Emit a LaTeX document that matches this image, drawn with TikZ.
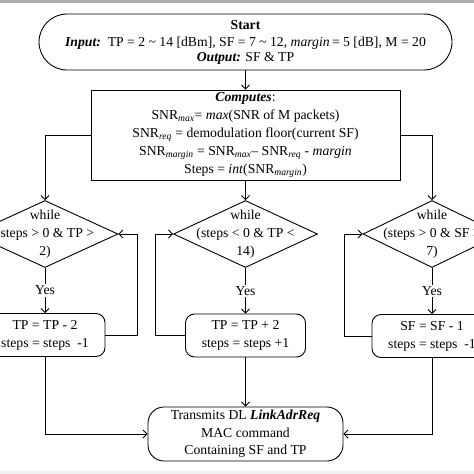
\documentclass[tikz,border=0pt]{standalone}
\usepackage{fontspec}
\setmainfont{Liberation Serif}
\usetikzlibrary{shapes.geometric,arrows.meta}
\begin{document}
\begin{tikzpicture}[x=1pt,y=-1pt,
  font=\fontsize{13.7}{18}\selectfont,
  line width=0.9pt,
  arr/.style={-{Straight Barb[length=4pt,width=8pt]}},
  stadium/.style={draw, rounded corners=28pt, align=center, inner sep=0pt},
  procbox/.style={draw, rounded corners=9pt, align=center, inner sep=0pt, minimum width=120, minimum height=43},
  endbox/.style={draw, rounded corners=16pt, align=center, inner sep=0pt, minimum width=195, minimum height=54},
  compbox/.style={draw, align=center, inner sep=0pt, minimum width=309, minimum height=90},
  dia/.style={draw, diamond, inner sep=0pt},
  diatext/.style={align=center, inner sep=0pt},
  yeslbl/.style={fill=white, inner sep=1.5pt}
]
\useasboundingbox (0,0) rectangle (474,474);
\clip (0,0) rectangle (474,474);
\fill[white] (0,0) rectangle (474,474);
\fill[gray!65] (0,0) rectangle (474,2.5);
\fill[gray!12] (0,471) rectangle (474,474);

\node[stadium, minimum width=413, minimum height=56] (start) at (245.5,42)
  {\textbf{Start}\\[-1pt]
   \textbf{\textit{Input:}}\, TP = 2 \textasciitilde{} 14 [dBm], SF = 7 \textasciitilde{} 12, \textit{margin}\,= 5 [dB], M = 20\\[-3pt]
   \textbf{\textit{Output:}} SF \& TP};

\node[compbox] (comp) at (245.5,135)
  {\textbf{\textit{Computes}}:\\
   SNR\textsubscript{\textit{max}}= \textit{max}(SNR of M packets)\\
   SNR\textsubscript{\textit{req}} = demodulation floor(current SF)\\
   SNR\textsubscript{\textit{margin}} = SNR\textsubscript{\textit{max}}-- SNR\textsubscript{\textit{req}} - \textit{margin}\\
   Steps = \textit{int}(SNR\textsubscript{\textit{margin}})};

\node[dia, minimum width=146, minimum height=67] (d1) at (45,234) {};
\node[diatext] (t1) at (45,234) {while\\(steps > 0 \& TP >\\2)};
\node[dia, minimum width=144, minimum height=67] (d2) at (245.5,234) {};
\node[diatext] (t2) at (245.5,234) {while\\(steps < 0 \& TP <\\14)};
\node[dia, minimum width=138, minimum height=67] (d3) at (432,234) {};
\node[diatext] (t3) at (432,234) {while\\(steps > 0 \& SF >\\7)};

\node[procbox] (b1) at (45,335) {TP = TP - 2\\steps = steps \ -1};
\node[procbox] (b2) at (245.5,335.5) {TP = TP + 2\\steps = steps +1};
\node[procbox] (b3) at (432,336) {SF = SF - 1\\steps = steps \ -1};

\node[endbox, font=\fontsize{13.7}{17.5}\selectfont] (fin) at (245.5,434)
  {Transmits DL \textbf{\textit{LinkAdrReq}}\\MAC command\\Containing SF and TP};

\coordinate (l1) at (137,0);
\coordinate (l2) at (155,0);
\coordinate (l3) at (344,0);

\draw[arr] (start) -- (comp);
\draw[arr] (comp.west) -| (d1.north);
\draw[arr] (comp.south) -- (d2.north);
\draw[arr] (comp.east) -| (d3.north);

\draw[arr] (d1.south) -- node[yeslbl] {Yes} (b1.north);
\draw[arr] (d2.south) -- node[yeslbl] {Yes} (b2.north);
\draw[arr] (d3.south) -- node[yeslbl] {Yes} (b3.north);

\draw[arr] (b1.east) -- (b1.east -| l1) -- (l1 |- d1.east) -- (d1.east);
\draw[arr] (b2.west) -- (b2.west -| l2) -- (l2 |- d2.west) -- (d2.west);
\draw[arr] (b3.west) -- (b3.west -| l3) -- (l3 |- d3.west) -- (d3.west);

\draw[arr] (b1.south) |- (fin.west);
\draw[arr] (b2.south) -- (fin.north);
\draw[arr] (b3.south) |- (fin.east);
\end{tikzpicture}
\end{document}
